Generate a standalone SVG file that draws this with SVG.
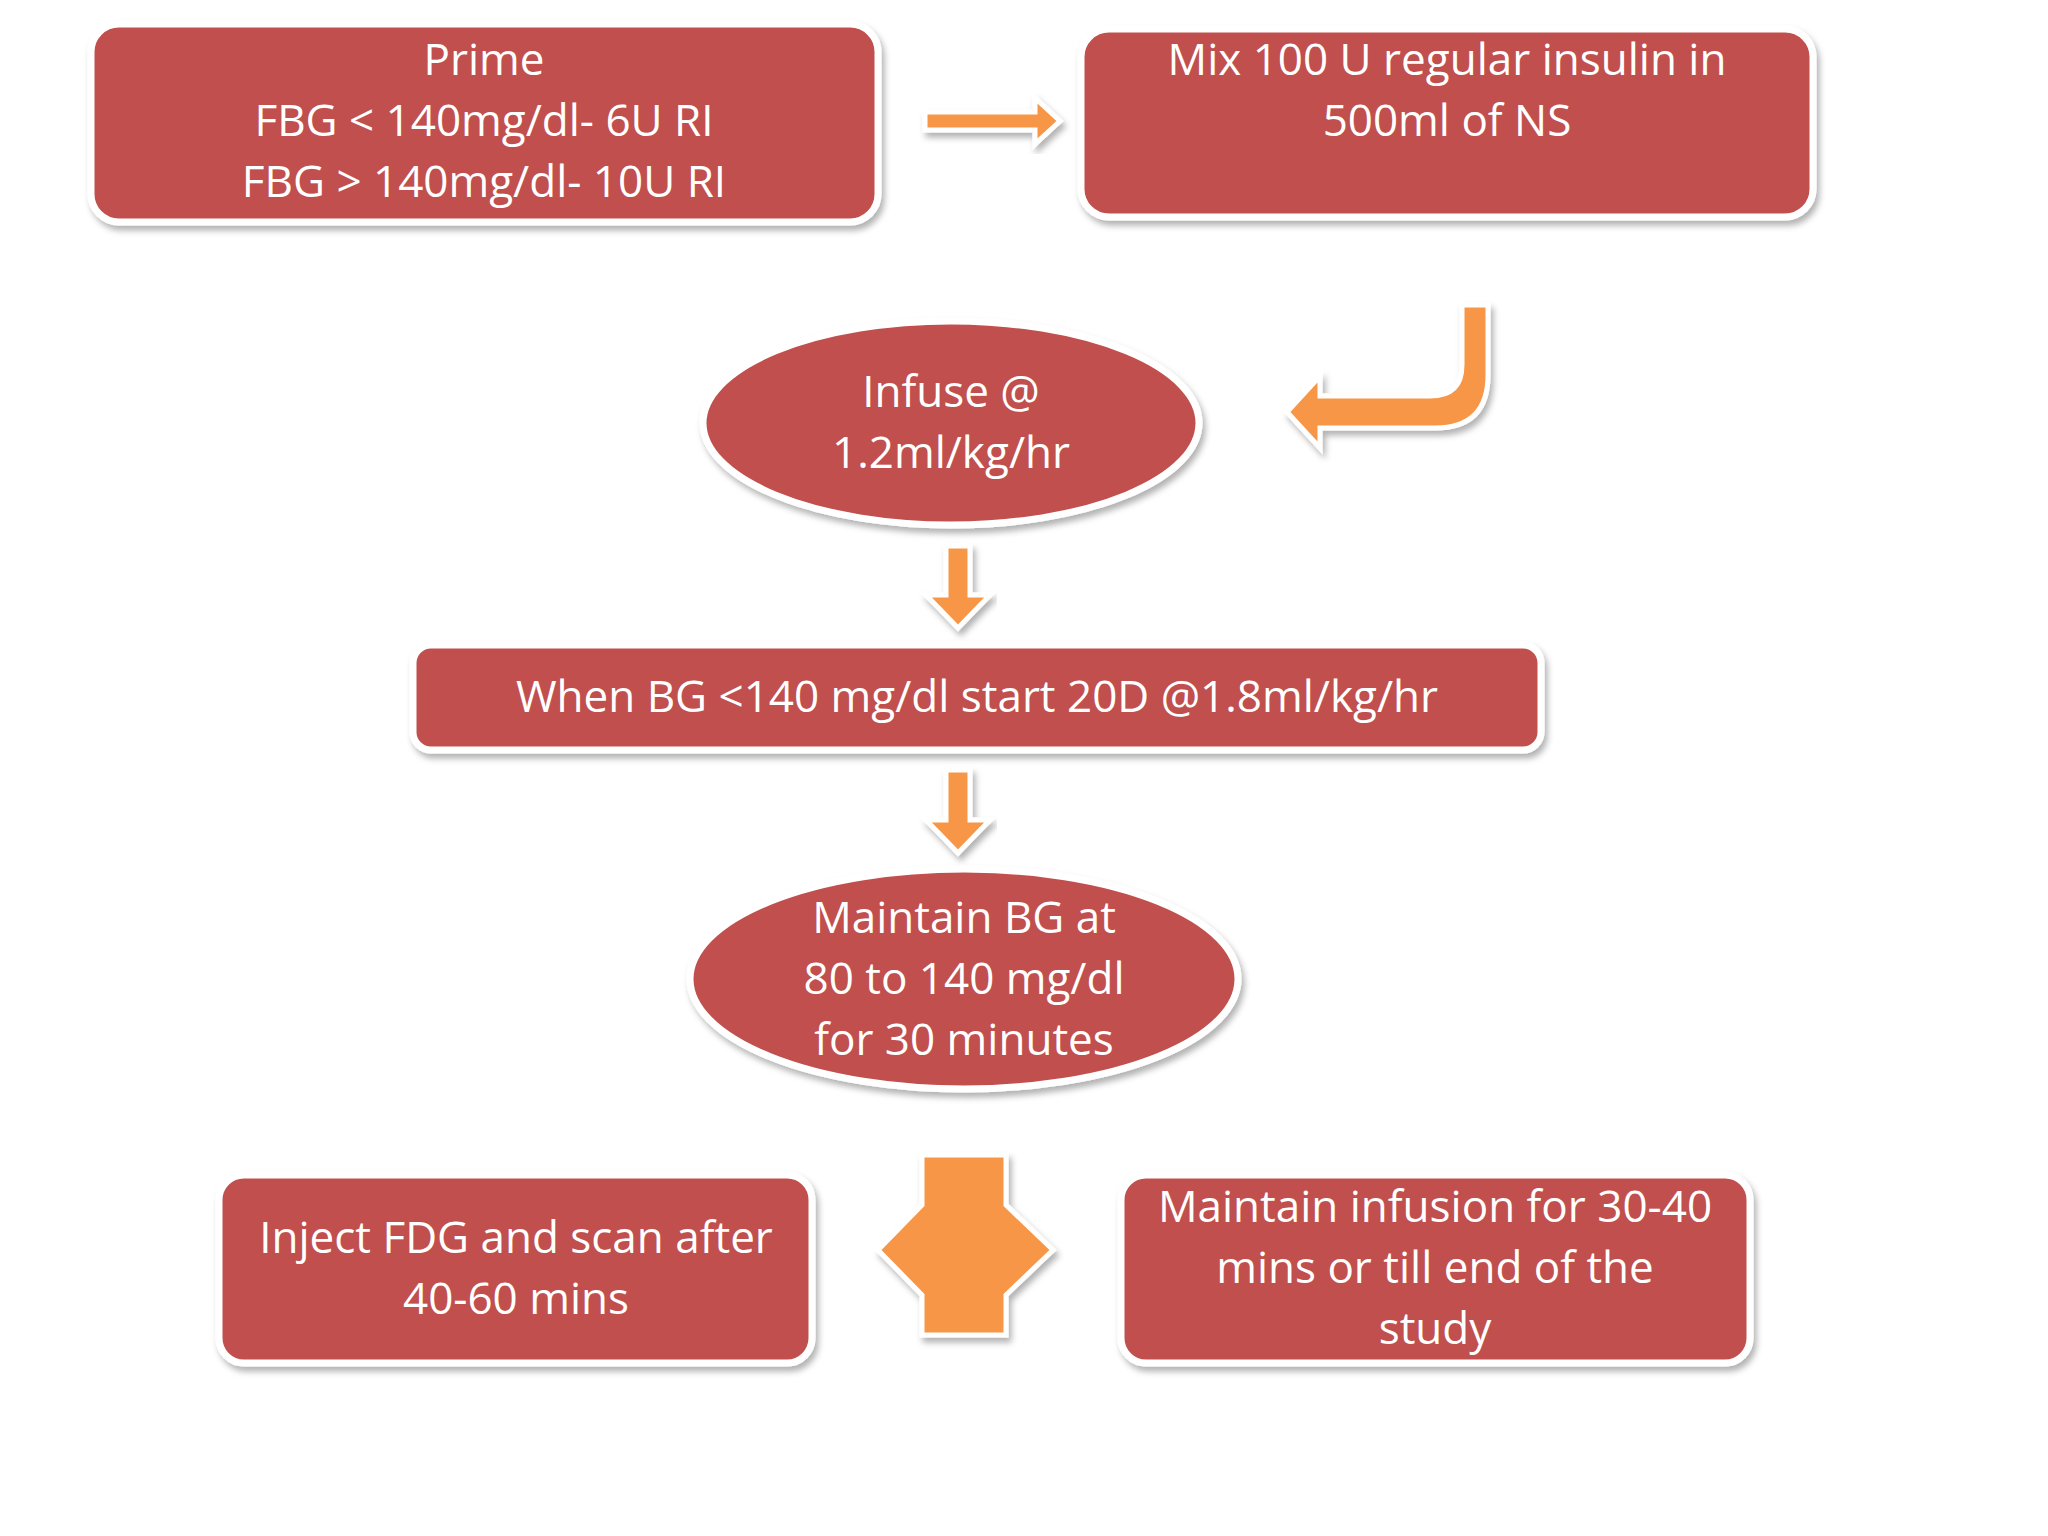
<svg xmlns="http://www.w3.org/2000/svg" width="2048" height="1536" viewBox="0 0 2048 1536">
<defs>
<filter id="sh" x="-10%" y="-10%" width="120%" height="130%"><feDropShadow dx="3" dy="5" stdDeviation="3" flood-color="#000" flood-opacity="0.3"/></filter>
</defs>
<style>
.n{fill:#C0504D;stroke:#fff;stroke-width:7;filter:url(#sh)}
.a{fill:#F79646;stroke:#fff;stroke-width:5;filter:url(#sh)}
text{font-family:"Open Sans","Liberation Sans",sans-serif;font-size:44px;fill:#fff;text-anchor:middle}
</style>
<rect width="2048" height="1536" fill="#fff"/>
<g id="connectors">
<polygon class="a" points="925,112 1035,112 1035,98 1060,121 1035,144 1035,130 925,130"/>
<path class="a" d="M1462,305 L1488,305 L1488,375 Q1488,428 1435,428 L1320,428 L1320,448 L1287,412 L1320,376 L1320,396 L1430,396 Q1462,396 1462,365 Z"/>
<polygon class="a" points="946,546 970,546 970,595 990,595 958,628 926,595 946,595"/>
<polygon class="a" points="946,770 970,770 970,820 990,820 958,853 926,820 946,820"/>
<polygon class="a" points="922,1155 1006,1155 1006,1205 1053,1250 1006,1295 1006,1335 922,1335 922,1295 878,1250 922,1205"/>
</g>
<g id="prime"><rect class="n" x="91" y="24" width="787" height="198" rx="28"/>
<text x="484" y="75">Prime</text><text x="484" y="136">FBG &lt; 140mg/dl- 6U RI</text><text x="484" y="197">FBG &gt; 140mg/dl- 10U RI</text></g>
<g id="mix"><rect class="n" x="1081" y="29" width="732" height="188" rx="28"/>
<text x="1447" y="75">Mix 100 U regular insulin in</text><text x="1447" y="136">500ml of NS</text></g>
<g id="infuse"><ellipse class="n" cx="951" cy="423" rx="248" ry="102"/>
<text x="951" y="407">Infuse @</text><text x="951" y="468">1.2ml/kg/hr</text></g>
<g id="when"><rect class="n" x="413" y="645" width="1128" height="105" rx="18"/>
<text x="977" y="712">When BG &lt;140 mg/dl start 20D @1.8ml/kg/hr</text></g>
<g id="maintain"><ellipse class="n" cx="964" cy="979" rx="274" ry="110"/>
<text x="964" y="933">Maintain BG at</text><text x="964" y="994">80 to 140 mg/dl</text><text x="964" y="1055">for 30 minutes</text></g>
<g id="inject"><rect class="n" x="219" y="1175" width="593" height="188" rx="25"/>
<text x="516" y="1253">Inject FDG and scan after</text><text x="516" y="1314">40-60 mins</text></g>
<g id="infusion"><rect class="n" x="1121" y="1175" width="629" height="188" rx="25"/>
<text x="1435" y="1222">Maintain infusion for 30-40</text><text x="1435" y="1283">mins or till end of the</text><text x="1435" y="1344">study</text></g>
</svg>
